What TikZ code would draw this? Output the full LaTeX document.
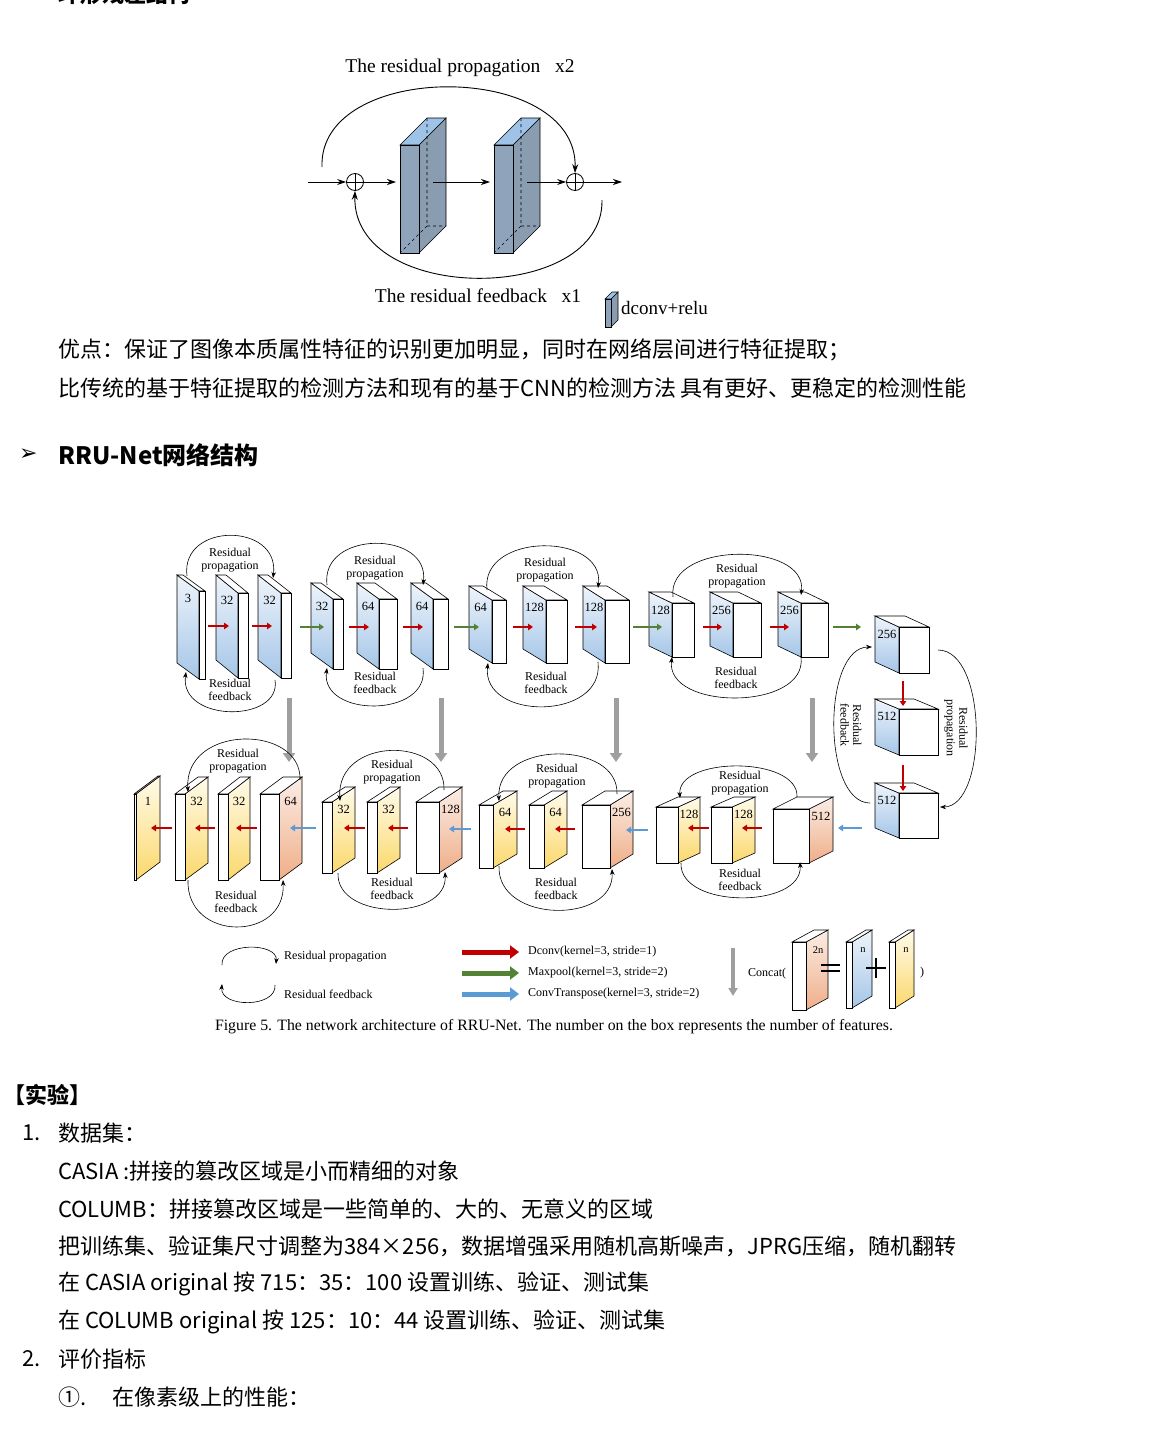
\documentclass[tikz,border=0pt]{standalone}
\usepackage{fontspec}
\setmainfont{Liberation Serif}
\newfontfamily\cjk{Noto Sans CJK SC}
\newfontfamily\dejavu{DejaVu Sans}
\usetikzlibrary{arrows.meta,calc}
\definecolor{blueT}{HTML}{EEF4FB}
\definecolor{blueB}{HTML}{A5C6E8}
\definecolor{yelT}{HTML}{FFFBEA}
\definecolor{yelB}{HTML}{FBD86C}
\definecolor{orT}{HTML}{FBEDE6}
\definecolor{orB}{HTML}{EFAE88}
\definecolor{myred}{HTML}{C00000}
\definecolor{mygreen}{HTML}{538135}
\definecolor{myblue}{HTML}{5B9BD5}
\definecolor{slabF}{HTML}{8FA4BA}
\definecolor{slabS}{HTML}{8A9CB0}
\definecolor{slabT}{HTML}{9EC3E6}
\tikzset{
 lbl/.style={font=\fontsize{12}{12.5}\selectfont, align=center, inner sep=0pt},
 num/.style={font=\fontsize{12.5}{12.5}\selectfont, inner sep=0pt},
 cn/.style={font=\cjk\fontsize{22}{24}\selectfont, anchor=west, inner sep=0pt},
 loopline/.style={line width=0.6pt, -{Stealth[length=6pt,width=4.5pt]}},
 redarr/.style={line width=2.2pt, myred, -{Triangle[length=5pt,width=6.5pt]}},
 grnarr/.style={line width=2.2pt, mygreen, -{Triangle[length=5pt,width=6.5pt]}},
 bluarr/.style={line width=2.2pt, myblue, -{Triangle[length=5pt,width=6.5pt]}},
 grayarr/.style={line width=5pt, gray!75, -{Triangle[length=9pt,width=12pt]}},
 bigarr/.style={line width=5pt, -{Triangle[length=9pt,width=13pt]}},
 edge/.style={line width=0.6pt, draw=black},
 topline/.style={line width=0.9pt, -{Stealth[length=9pt,width=6pt]}},
}
\newcommand\encbox[7]{%
 \pgfmathsetmacro\edy{#5-#2}\pgfmathsetmacro\edx{#3-#1}%
 \pgfmathsetmacro\ebl{#6-\edy}\pgfmathsetmacro\etx{#4-\edx}%
 \shade[top color=blueT,bottom color=blueB,edge] (#1,#2)--(#3,#5)--(#3,#6)--(#1,\ebl)--cycle;
 \filldraw[fill=white,edge] (#1,#2)--(#3,#5)--(#4,#5)--(\etx,#2)--cycle;
 \filldraw[fill=white,edge] (#3,#5) rectangle (#4,#6);
 \node[num] at ({(#1+#3)/2},#5+7) {#7};}
\newcommand\decbox[9]{%
 \pgfmathsetmacro\ddy{#3-#6}\pgfmathsetmacro\ddx{#5-#2}%
 \pgfmathsetmacro\dbl{#4-\ddy}\pgfmathsetmacro\dtx{#1+\ddx}%
 \shade[top color=#7,bottom color=#8,edge] (#2,#3)--(#5,#6)--(#5,\dbl)--(#2,#4)--cycle;
 \filldraw[fill=white,edge] (#1,#3)--(\dtx,#6)--(#5,#6)--(#2,#3)--cycle;
 \filldraw[fill=white,edge] (#1,#3) rectangle (#2,#4);
 \node[num] at ({(#2+#5)/2},#3+7) {#9};}
\newcommand\slab[4]{% x0 x1 y0 y1 ; depth 27
 \pgfmathsetmacro\sa{#1+27}\pgfmathsetmacro\sb{#2+27}\pgfmathsetmacro\sc{#3-27}\pgfmathsetmacro\sd{#4-27}%
 \filldraw[fill=slabS,edge] (#2,#3)--(\sb,\sc)--(\sb,\sd)--(#2,#4)--cycle;
 \filldraw[fill=slabT,edge] (#1,#3)--(\sa,\sc)--(\sb,\sc)--(#2,#3)--cycle;
 \filldraw[fill=slabF,edge] (#1,#3) rectangle (#2,#4);
 \draw[dashed,line width=0.6pt] (\sa,\sc)--(\sa,\sd)--(\sb,\sd) (\sa,\sd)--(#1,#4);}
\begin{document}
\begin{tikzpicture}[x=1pt,y=-1pt]
\useasboundingbox (0,0) rectangle (1156,1440);
\fill[white] (0,0) rectangle (1156,1440);
\begin{scope}
\clip (0,0) rectangle (1156,1440);
\node[cn,font=\cjk\bfseries\fontsize{22}{24}\selectfont] (hdr) at (58,-6) {环形残差结构};
\end{scope}
% ---------- top figure ----------
\node[font=\fontsize{19.5}{21}\selectfont] (tprop) at (460,68) {The residual propagation\ \ \ x2};
\node[font=\fontsize{19.5}{21}\selectfont] (tfb) at (478,296) {The residual feedback\ \ \ x1};
\slab{400}{419}{145}{253}
\slab{494}{513}{145}{253}
\node[circle,draw,line width=0.8pt,minimum size=17pt,inner sep=0pt] (p1) at (355,182) {};
\node[circle,draw,line width=0.8pt,minimum size=17pt,inner sep=0pt] (p2) at (575,182) {};
\draw[line width=0.8pt] (p1.north)--(p1.south) (p1.west)--(p1.east) (p2.north)--(p2.south) (p2.west)--(p2.east);
\coordinate (in) at (308,182); \coordinate (out) at (622,182);
\draw[topline] (in)--(p1);
\draw[topline] (p1)--(396,182);
\draw[topline] (433,182)--(490,182);
\draw[topline] (527,182)--(p2);
\draw[topline] (p2)--(out);
\draw[topline] (322,167) .. controls (318,60) and (578,60) .. (p2.north);
\draw[topline] (602,200) .. controls (604,305) and (352,305) .. (p1.south);
% icon
\filldraw[fill=slabS,edge] (611,299)--(618,292)--(618,320)--(611,327)--cycle;
\filldraw[fill=slabT,edge] (605,299)--(612,292)--(618,292)--(611,299)--cycle;
\filldraw[fill=slabF,edge] (605,299) rectangle (611,327);
\node[font=\fontsize{19}{20}\selectfont,anchor=west,inner sep=0pt] (icl) at (621,308) {dconv+relu};
% ---------- Chinese text ----------
\node[cn] (t1) at (58,350) {优点：保证了图像本质属性特征的识别更加明显，同时在网络层间进行特征提取；};
\node[cn] (t2) at (58,388) {比传统的基于特征提取的检测方法和现有的基于CNN的检测方法 具有更好、更稳定的检测性能};
\node[font=\dejavu\bfseries\fontsize{22}{24}\selectfont,anchor=west,inner sep=0pt] (bul) at (19,455) {➢};
\node[cn,font=\cjk\bfseries\fontsize{24}{26}\selectfont] (t3) at (58,455) {RRU-Net网络结构};
% ---------- network: top row ----------
\encbox{177}{575}{199}{205}{591}{679}{3}
\encbox{216}{575}{238}{248}{593}{678}{32}
\encbox{258}{575}{281}{291}{593}{678}{32}
\encbox{311}{583}{333}{343}{599}{669}{32}
\encbox{357}{583}{379}{397}{599}{669}{64}
\encbox{411}{583}{433}{448}{599}{669}{64}
\encbox{469}{586}{492}{506}{600}{663}{64}
\encbox{523}{586}{546}{567}{600}{663}{128}
\encbox{583}{586}{605}{629}{600}{663}{128}
\encbox{649}{592}{672}{694}{603}{657}{128}
\encbox{710}{592}{733}{761}{603}{657}{256}
\encbox{778}{592}{801}{828}{603}{657}{256}
\encbox{875}{616}{899}{929}{627}{673}{256}
\encbox{875}{699}{899}{938}{709}{755}{512}
\encbox{875}{783}{899}{938}{793}{838}{512}
\draw[redarr] (208,626)--(229,626);
\draw[redarr] (252,626)--(272,626);
\draw[grnarr] (300,627)--(324,627);
\draw[redarr] (349,627)--(369,627);
\draw[redarr] (403,627)--(423,627);
\draw[grnarr] (454,627)--(479,627);
\draw[redarr] (513,627)--(533,627);
\draw[redarr] (575,627)--(597,627);
\draw[grnarr] (633,627)--(662,627);
\draw[redarr] (703,627)--(722,627);
\draw[redarr] (770,627)--(789,627);
\draw[grnarr] (833,627)--(861,627);
\draw[redarr] (903,681)--(903,706);
\draw[redarr] (903,765)--(903,791);
% loops top row
\draw[loopline] (187,576) .. controls (180,522) and (280,522) .. (273,578);
\draw[loopline] (275,680) .. controls (282,723) and (179,723) .. (186,672);
\node[lbl] (l1) at (230,560) {Residual\\propagation};
\node[lbl] (l2) at (230,690) {Residual\\feedback};
\draw[loopline] (327,585) .. controls (320,530) and (430,530) .. (423,585);
\draw[loopline] (423,668) .. controls (430,718) and (320,718) .. (327,668);
\node[lbl] (l3) at (375,568) {Residual\\propagation};
\node[lbl] (l4) at (375,683) {Residual\\feedback};
\draw[loopline] (487,590) .. controls (480,532) and (605,532) .. (598,588);
\draw[loopline] (598,662) .. controls (605,721) and (481,721) .. (488,663);
\node[lbl] (l5) at (545,570) {Residual\\propagation};
\node[lbl] (l6) at (546,683) {Residual\\feedback};
\draw[loopline] (673,597) .. controls (666,541) and (808,541) .. (801,595);
\draw[loopline] (801,657) .. controls (808,711) and (665,711) .. (672,657);
\node[lbl] (l7) at (737,576) {Residual\\propagation};
\node[lbl] (l8) at (736,678) {Residual\\feedback};
\draw[loopline] (938,650) .. controls (988,650) and (988,807) .. (940,807);
\draw[loopline] (870,803) .. controls (822,803) and (822,647) .. (872,647);
\node[lbl,rotate=-90] (l9) at (956,728) {Residual\\propagation};
\node[lbl,rotate=-90] (l10) at (851,725) {Residual\\feedback};
% gray arrows
\draw[grayarr] (289,698)--(289,762);
\draw[grayarr] (441,698)--(441,762);
\draw[grayarr] (616,698)--(616,762);
\draw[grayarr] (812,698)--(812,762);
% ---------- bottom row ----------
\decbox{134}{136}{794}{880}{160}{776}{yelT}{yelB}{1}
\decbox{175}{185}{794}{880}{208}{777}{yelT}{yelB}{32}
\decbox{218}{228}{794}{880}{250}{777}{yelT}{yelB}{32}
\decbox{260}{279}{794}{880}{302}{777}{orT}{orB}{64}
\decbox{322}{332}{802}{873}{355}{787}{yelT}{yelB}{32}
\decbox{367}{377}{802}{873}{400}{787}{yelT}{yelB}{32}
\decbox{416}{439}{802}{873}{462}{787}{orT}{orB}{128}
\decbox{479}{493}{805}{868}{517}{791}{yelT}{yelB}{64}
\decbox{529}{544}{805}{868}{567}{791}{yelT}{yelB}{64}
\decbox{582}{610}{805}{868}{633}{791}{orT}{orB}{256}
\decbox{656}{678}{807}{863}{700}{797}{yelT}{yelB}{128}
\decbox{711}{732}{807}{863}{755}{797}{yelT}{yelB}{128}
\decbox{773}{809}{809}{863}{833}{797}{orT}{orB}{512}
\draw[redarr] (172,828)--(151,828);
\draw[redarr] (215,828)--(195,828);
\draw[redarr] (257,828)--(236,828);
\draw[bluarr] (316,828)--(290,828);
\draw[redarr] (365,828)--(344,828);
\draw[redarr] (408,828)--(388,828);
\draw[bluarr] (471,829)--(449,829);
\draw[redarr] (525,829)--(505,829);
\draw[redarr] (575,829)--(555,829);
\draw[bluarr] (648,830)--(626,830);
\draw[redarr] (709,828)--(688,828);
\draw[redarr] (762,828)--(742,828);
\draw[bluarr] (862,828)--(838,828);
% loops bottom row
\draw[loopline] (300,780) .. controls (302,724) and (184,724) .. (188,792);
\draw[loopline] (188,880) .. controls (186,942) and (286,942) .. (283,880);
\node[lbl] (m1) at (238,761) {Residual\\propagation};
\node[lbl] (m2) at (236,902) {Residual\\feedback};
\draw[loopline] (444,790) .. controls (446,736) and (336,736) .. (340,801);
\draw[loopline] (338,873) .. controls (336,921) and (448,921) .. (445,872);
\node[lbl] (m3) at (392,772) {Residual\\propagation};
\node[lbl] (m4) at (392,889) {Residual\\feedback};
\draw[loopline] (617,794) .. controls (619,740) and (496,740) .. (499,801);
\draw[loopline] (499,866) .. controls (497,924) and (615,924) .. (612,869);
\node[lbl] (m5) at (557,776) {Residual\\propagation};
\node[lbl] (m6) at (556,889) {Residual\\feedback};
\draw[loopline] (797,797) .. controls (799,756) and (677,756) .. (680,798);
\draw[loopline] (681,863) .. controls (679,909) and (803,909) .. (800,862);
\node[lbl] (m7) at (740,783) {Residual\\propagation};
\node[lbl] (m8) at (740,880) {Residual\\feedback};
% ---------- legend ----------
\draw[loopline] (222,965) .. controls (220,942) and (278,942) .. (276,964);
\draw[loopline] (275,985) .. controls (277,1008) and (220,1008) .. (222,984);
\node[lbl,anchor=west] (g1) at (284,957) {Residual propagation};
\node[lbl,anchor=west] (g2) at (284,994) {Residual feedback};
\draw[bigarr,myred] (462,952)--(519,952);
\draw[bigarr,mygreen] (462,973)--(519,973);
\draw[bigarr,myblue] (462,994)--(519,994);
\node[lbl,anchor=west] (g3) at (528,952) {Dconv(kernel=3, stride=1)};
\node[lbl,anchor=west] (g4) at (528,973) {Maxpool(kernel=3, stride=2)};
\node[lbl,anchor=west] (g5) at (528,994) {ConvTranspose(kernel=3, stride=2)};
\draw[line width=3.5pt,gray!75,-{Triangle[length=8pt,width=9pt]}] (733,948)--(733,996);
\node[lbl,anchor=west] (g6) at (748,974) {Concat(};
\decbox{792}{806}{942}{1010}{828}{930}{orT}{orB}{}
\node[num,font=\fontsize{10.5}{10.5}\selectfont] at (818,950) {2n};
\decbox{846}{852}{942}{1008}{872}{930}{blueT}{blueB}{}
\node[num,font=\fontsize{10.5}{10.5}\selectfont] at (863,950) {n};
\decbox{889}{895}{942}{1008}{914}{930}{yelT}{yelB}{}
\node[num,font=\fontsize{10.5}{10.5}\selectfont] at (906,950) {n};
\draw[line width=2pt] (821,965)--(840,965) (821,971)--(840,971);
\draw[line width=2.5pt] (866,968)--(886,968) (876,958)--(876,978);
\node[lbl] (g7) at (922,973) {)};
\node[font=\fontsize{15.8}{17}\selectfont,inner sep=0pt] (cap) at (554,1027) {Figure 5. The network architecture of RRU-Net. The number on the box represents the number of features.};
% ---------- bottom text ----------
\node[cn,font=\cjk\bfseries\fontsize{22}{24}\selectfont] (h2) at (3,1095) {【实验】};
\node[cn] (n1) at (22,1133) {1.};
\node[cn] (c1) at (58,1133) {数据集：};
\node[cn] (c2) at (58,1171) {CASIA :拼接的篡改区域是小而精细的对象};
\node[cn] (c3) at (58,1209) {COLUMB：拼接篡改区域是一些简单的、大的、无意义的区域};
\node[cn] (c4) at (58,1246) {把训练集、验证集尺寸调整为384×256，数据增强采用随机高斯噪声，JPRG压缩，随机翻转};
\node[cn] (c5) at (58,1284) {在 CASIA original 按 715：35：100 设置训练、验证、测试集};
\node[cn] (c6) at (58,1322) {在 COLUMB original 按 125：10：44 设置训练、验证、测试集};
\node[cn] (n2) at (22,1359) {2.};
\node[cn] (c7) at (58,1359) {评价指标};
\node[cn] (c8) at (58,1397) {①.};
\node[cn] (c9) at (112,1397) {在像素级上的性能：};
\end{tikzpicture}
\end{document}
